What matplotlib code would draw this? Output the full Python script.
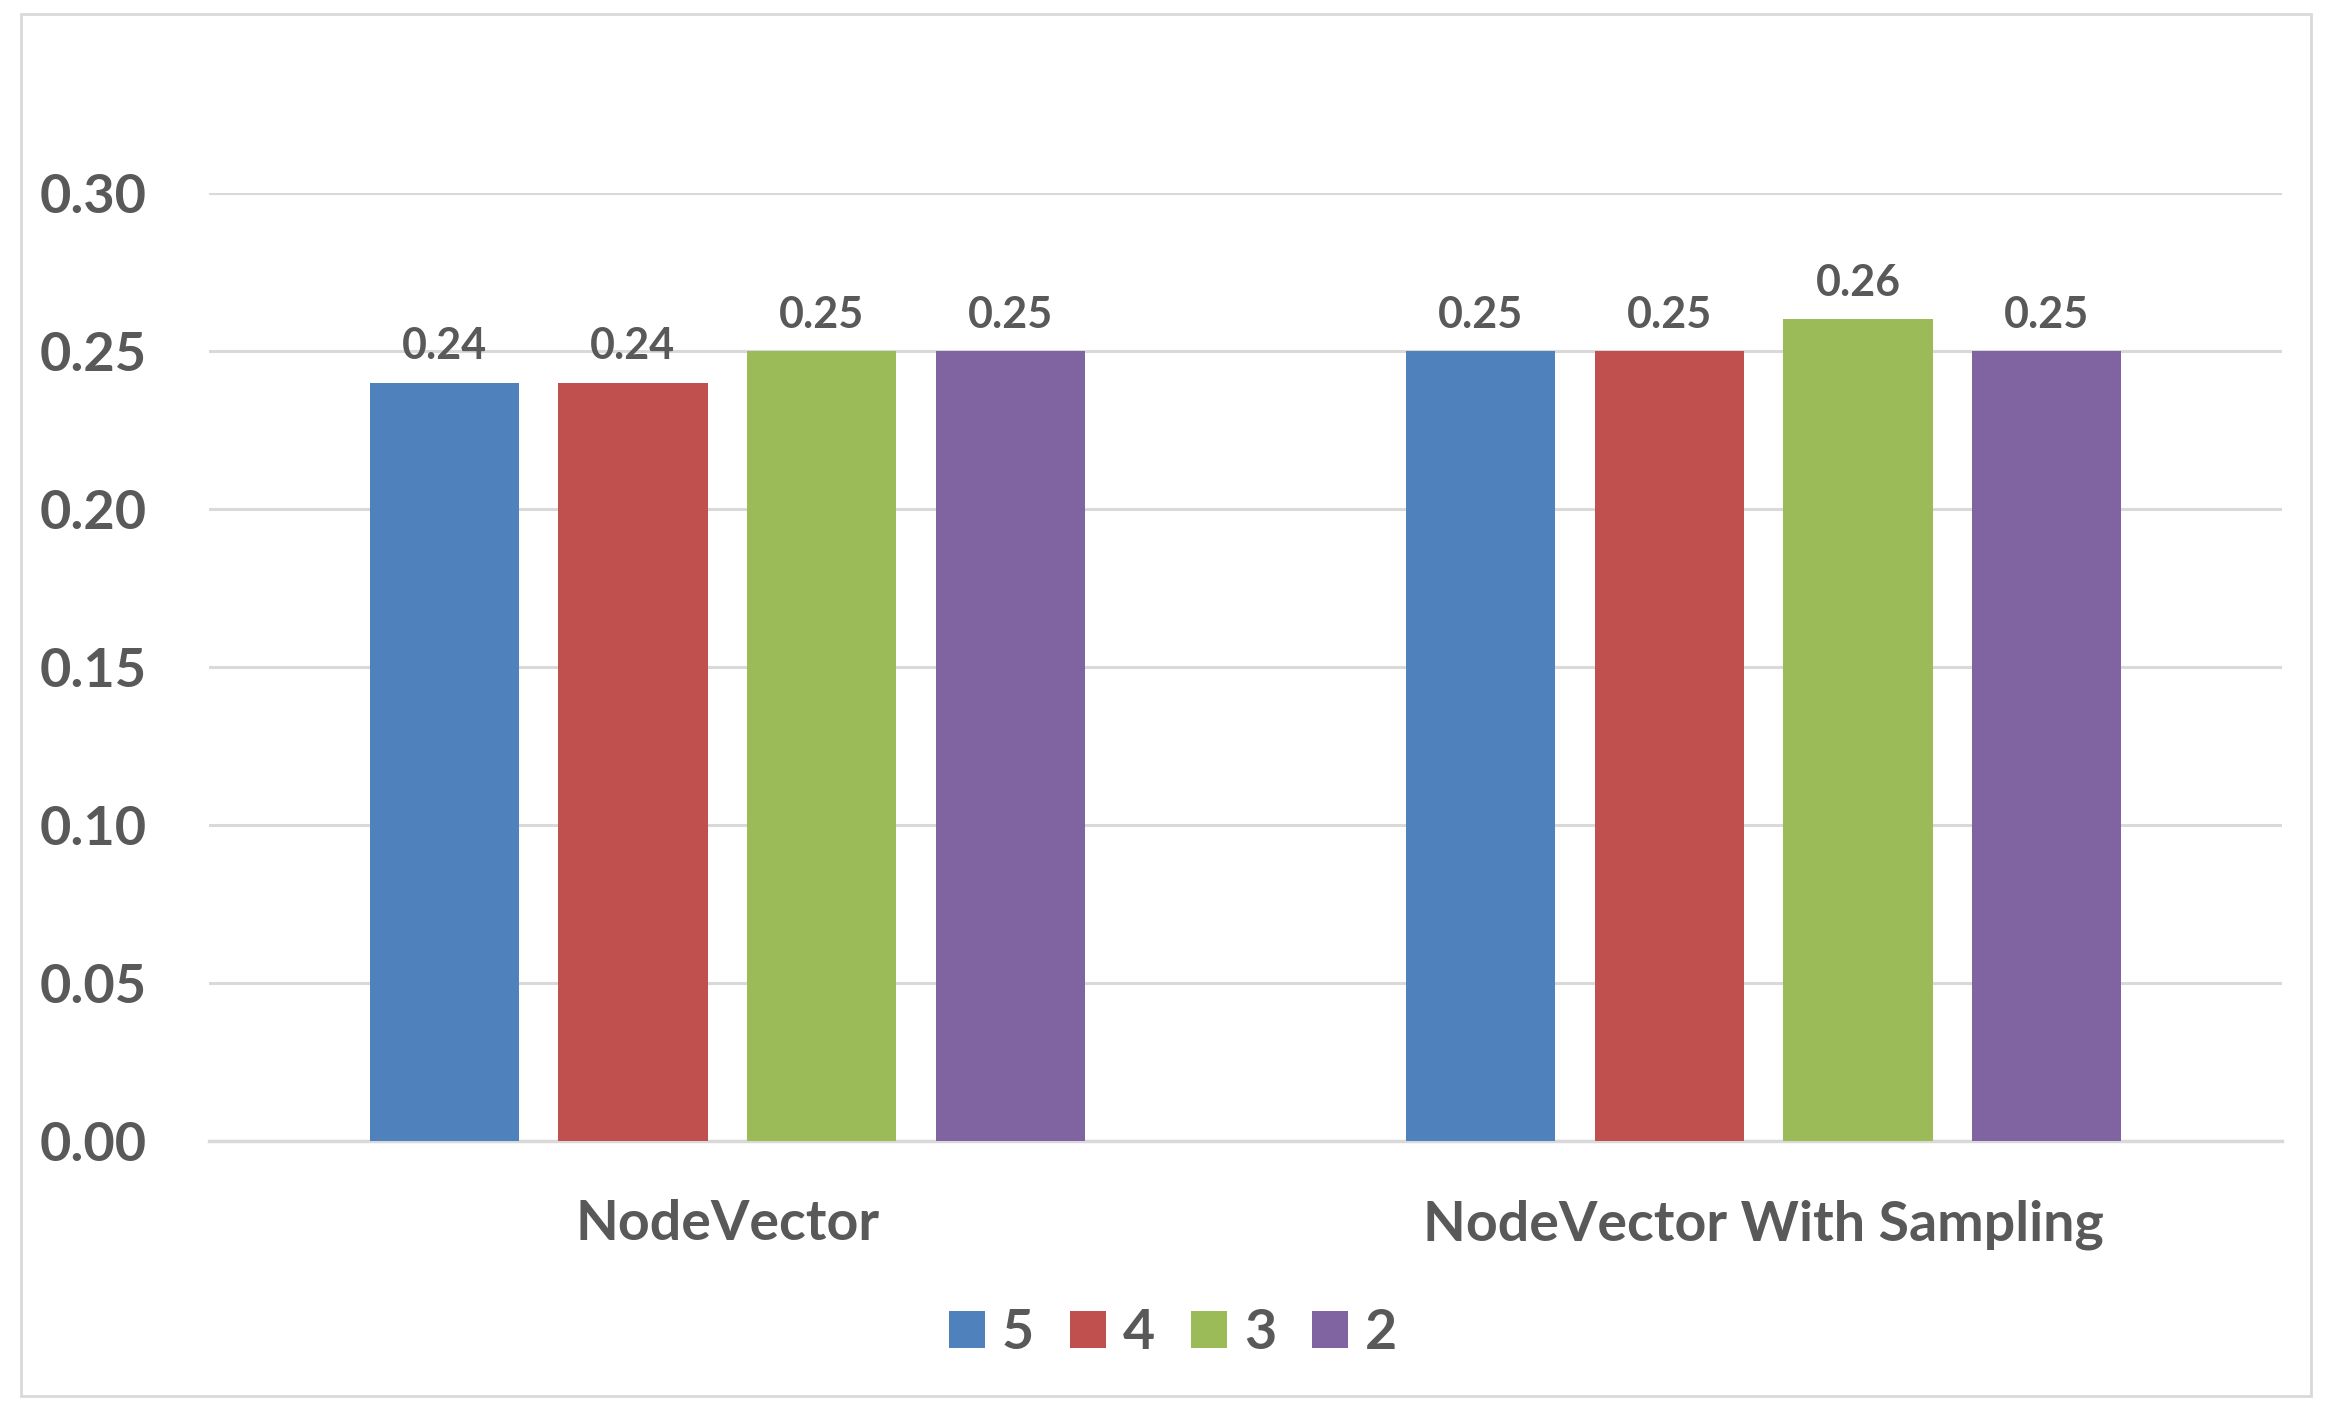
import matplotlib
matplotlib.use('Agg')
import matplotlib.pyplot as plt
import numpy as np
from matplotlib.patches import Rectangle

categories = ['NodeVector', 'NodeVector With Sampling']
series = ['5', '4', '3', '2']
values = {
    '5': [0.24, 0.25],
    '4': [0.24, 0.25],
    '3': [0.25, 0.26],
    '2': [0.25, 0.25],
}
colors = ['#4F81BD', '#C0504D', '#9BBB59', '#8064A2']
yticks = [0.00, 0.05, 0.10, 0.15, 0.20, 0.25, 0.30]

plt.rcParams['font.family'] = ['Lato', 'DejaVu Sans']
plt.rcParams['font.weight'] = 'bold'
text_col = '#595959'
grid_col = '#D9D9D9'

W, H = 2328, 1415
fig = plt.figure(figsize=(W / 100, H / 100), dpi=100)

# plot area in pixels: x 209..2282, y(top) 193..1141
ax = fig.add_axes([209 / W, 1 - 1141 / H, (2282 - 209) / W, (1141 - 193) / H])

x = np.arange(len(categories))
step = 0.182
width = 0.144
for i, (s, col) in enumerate(zip(series, colors)):
    pos = x + (i - 1.5) * step
    bars = ax.bar(pos, values[s], width, color=col, label=s, zorder=3)
    for b, v in zip(bars, values[s]):
        ax.text(b.get_x() + b.get_width() / 2, v + 0.0052, f'{v:.2f}',
                ha='center', va='bottom', fontsize=31, color=text_col,
                fontweight='bold')

ax.set_xlim(-0.5, 1.5)
ax.set_ylim(0, 0.30)
ax.set_yticks(yticks)
ax.set_yticklabels([f'{t:.2f}' for t in yticks])
ax.yaxis.grid(True, color=grid_col, linewidth=2.2, zorder=0)
ax.set_axisbelow(True)
for sp in ['top', 'right', 'left']:
    ax.spines[sp].set_visible(False)
ax.spines['bottom'].set_color(grid_col)
ax.spines['bottom'].set_linewidth(2.5)
ax.tick_params(axis='y', length=0, pad=45, labelsize=39, labelcolor=text_col)
ax.tick_params(axis='x', length=0, pad=42, labelsize=40, labelcolor=text_col)
ax.set_xticks(x)
ax.set_xticklabels(categories)
for lab in ax.get_xticklabels() + ax.get_yticklabels():
    lab.set_fontweight('bold')

leg = fig.legend(loc='center', bbox_to_anchor=(1173 / W, 1 - 1333 / H), ncol=4,
                 frameon=False, fontsize=40, handlelength=0.65, handleheight=0.65,
                 handletextpad=0.3, columnspacing=0.65)
for t in leg.get_texts():
    t.set_color(text_col)
    t.set_fontweight('bold')

fig.patches.append(Rectangle((21 / W, 1 - 1396 / H), (2311 - 21) / W, (1396 - 14) / H,
                             transform=fig.transFigure, fill=False,
                             edgecolor=grid_col, linewidth=2))

fig.savefig('out.png', dpi=100)
